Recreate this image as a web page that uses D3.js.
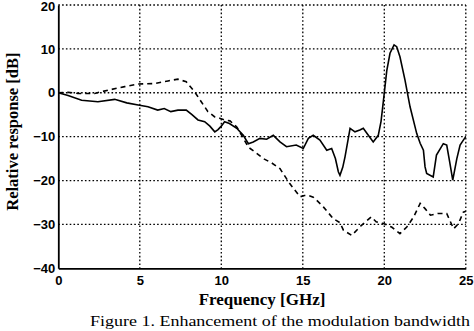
<!DOCTYPE html>
<html><head><meta charset="utf-8">
<script src="https://cdn.jsdelivr.net/npm/d3@7"></script>
<style>body{margin:0;background:#fff}svg{display:block}</style>
</head><body>
<svg id="c" width="474" height="331"></svg>
<script>
const xTicks = [0, 5, 10, 15, 20, 25];
const yTicks = [-40, -30, -20, -10, 0, 10, 20];
const solidFreq = [0,0.6,1.43,2.43,3.46,4.2,4.9,5.5,6.1,6.5,6.9,7.34,7.85,8.2,8.57,8.98,9.3,9.6,9.8,10.0,10.2,10.5,10.95,11.35,11.66,11.96,12.37,12.78,13.19,13.6,14.0,14.6,15.03,15.34,15.64,16.05,16.47,16.77,17.0,17.18,17.28,17.45,17.59,17.9,18.2,18.5,18.71,19.02,19.32,19.63,19.8,19.94,20.15,20.35,20.6,20.76,20.96,21.27,21.58,21.99,22.2,22.4,22.5,22.6,23.0,23.2,23.62,23.83,24.0,24.2,24.45,24.65,24.85,25.0];
const solidDb   = [0,-0.6,-1.7,-2.05,-1.5,-2.3,-2.8,-3.2,-3.95,-3.6,-4.3,-3.95,-3.95,-5.0,-6.2,-6.6,-7.6,-8.9,-8.4,-7.6,-6.6,-7.0,-8.1,-9.7,-11.6,-11.2,-10.4,-10.6,-9.7,-11.2,-12.3,-11.9,-12.7,-10.4,-9.7,-10.8,-13.1,-12.7,-15.0,-18.0,-18.8,-17.0,-14.6,-8.1,-8.9,-8.5,-8.1,-9.7,-11.2,-9.7,-6.5,-2.0,5.0,9.0,10.9,10.5,8.2,2.9,-3.2,-9.3,-11.5,-13.1,-16.9,-18.4,-19.2,-14.2,-11.6,-11.9,-15.5,-19.9,-15.0,-11.9,-10.8,-10.0];
const dashFreq = [0,0.6,1.2,2.23,3.05,4.07,4.9,5.9,6.73,7.34,7.85,8.37,8.77,9.18,9.6,9.9,10.2,10.53,10.95,11.3,11.66,12.1,12.58,13.1,13.6,14.2,14.83,15.1,15.34,15.64,15.85,16.26,16.87,17.28,17.49,18.0,18.6,19.2,19.5,19.94,20.45,20.96,21.38,21.8,22.2,22.5,22.83,23.3,23.83,24.25,24.55,24.85,25.0];
const dashDb   = [0,0.1,-0.15,-0.15,0.6,1.4,2.0,2.1,2.7,3.1,2.5,0.2,-2.05,-4.3,-5.5,-5.8,-6.2,-6.4,-7.8,-10.0,-12.4,-13.6,-15.0,-16.0,-17.3,-20.7,-23.7,-23.4,-23.4,-23.8,-24.5,-26.0,-28.7,-29.6,-31.3,-32.5,-30.2,-28.3,-29.4,-29.8,-30.6,-32.1,-30.6,-28.3,-25.2,-26.4,-27.9,-27.5,-27.5,-31.0,-29.8,-27.2,-27.0];

const svg = d3.select("#c");
const L = 58.3, R = 465.8, T = 5, B = 268.3;
const x = d3.scaleLinear().domain([0, 25]).range([L, R]);
const y = d3.scaleLinear().domain([-40, 20]).range([B, T]);

// grid (dotted) incl. top and right borders
const grid = svg.append("g").attr("stroke", "#000").attr("stroke-width", 1.3).attr("stroke-dasharray", "1.6,2.2");
grid.selectAll(".vg").data(xTicks.filter(d => d > 0)).join("line")
  .attr("x1", d => x(d)).attr("x2", d => x(d)).attr("y1", T).attr("y2", B);
grid.selectAll(".hg").data(yTicks.filter(d => d > -40)).join("line")
  .attr("x1", L).attr("x2", R).attr("y1", d => y(d)).attr("y2", d => y(d));

// axes
const fmt = d => d < 0 ? "\u2212" + Math.abs(d) : String(d);
const xa = svg.append("g").attr("transform", `translate(0,${B})`)
  .call(d3.axisBottom(x).tickValues(xTicks).tickSize(0).tickPadding(4).tickFormat(fmt));
const ya = svg.append("g").attr("transform", `translate(${L},0)`)
  .call(d3.axisLeft(y).tickValues(yTicks).tickSize(0).tickPadding(3).tickFormat(fmt));
[xa, ya].forEach(a => {
  a.select(".domain").attr("stroke", "#000").attr("stroke-width", 1.8);
  a.selectAll("text").attr("font-family", "Liberation Sans, Arial, sans-serif")
    .attr("font-weight", "bold").attr("font-size", 13).attr("fill", "#000");
});
xa.selectAll("text").attr("dy", "0.95em");
ya.selectAll("text").filter(d => d === 20).attr("dy", "0.45em");

// lines
const line = d3.line().x(d => x(d[0])).y(d => y(d[1])).curve(d3.curveLinear);
svg.append("path").datum(solidFreq.map((f, i) => [f, solidDb[i]]))
  .attr("d", line).attr("fill", "none").attr("stroke", "#000").attr("stroke-width", 1.6);
svg.append("path").datum(dashFreq.map((f, i) => [f, dashDb[i]]))
  .attr("d", line).attr("fill", "none").attr("stroke", "#000").attr("stroke-width", 1.6)
  .attr("stroke-dasharray", "5,4");

// labels
svg.append("text").attr("x", (L + R) / 2).attr("y", 305).attr("text-anchor", "middle")
  .attr("font-family", "Liberation Serif, Times New Roman, serif").attr("font-weight", "bold")
  .attr("font-size", 17).text("Frequency [GHz]");
svg.append("text").attr("transform", `translate(18,${(T + B) / 2 - 5}) rotate(-90)`)
  .attr("text-anchor", "middle")
  .attr("font-family", "Liberation Serif, Times New Roman, serif").attr("font-weight", "bold")
  .attr("font-size", 16.5).text("Relative response [dB]");
svg.append("text").attr("x", 90).attr("y", 326)
  .attr("font-family", "Liberation Serif, Times New Roman, serif")
  .attr("font-size", 15).attr("textLength", 380).attr("lengthAdjust", "spacingAndGlyphs")
  .text("Figure 1. Enhancement of the modulation bandwidth");
</script>
</body></html>
